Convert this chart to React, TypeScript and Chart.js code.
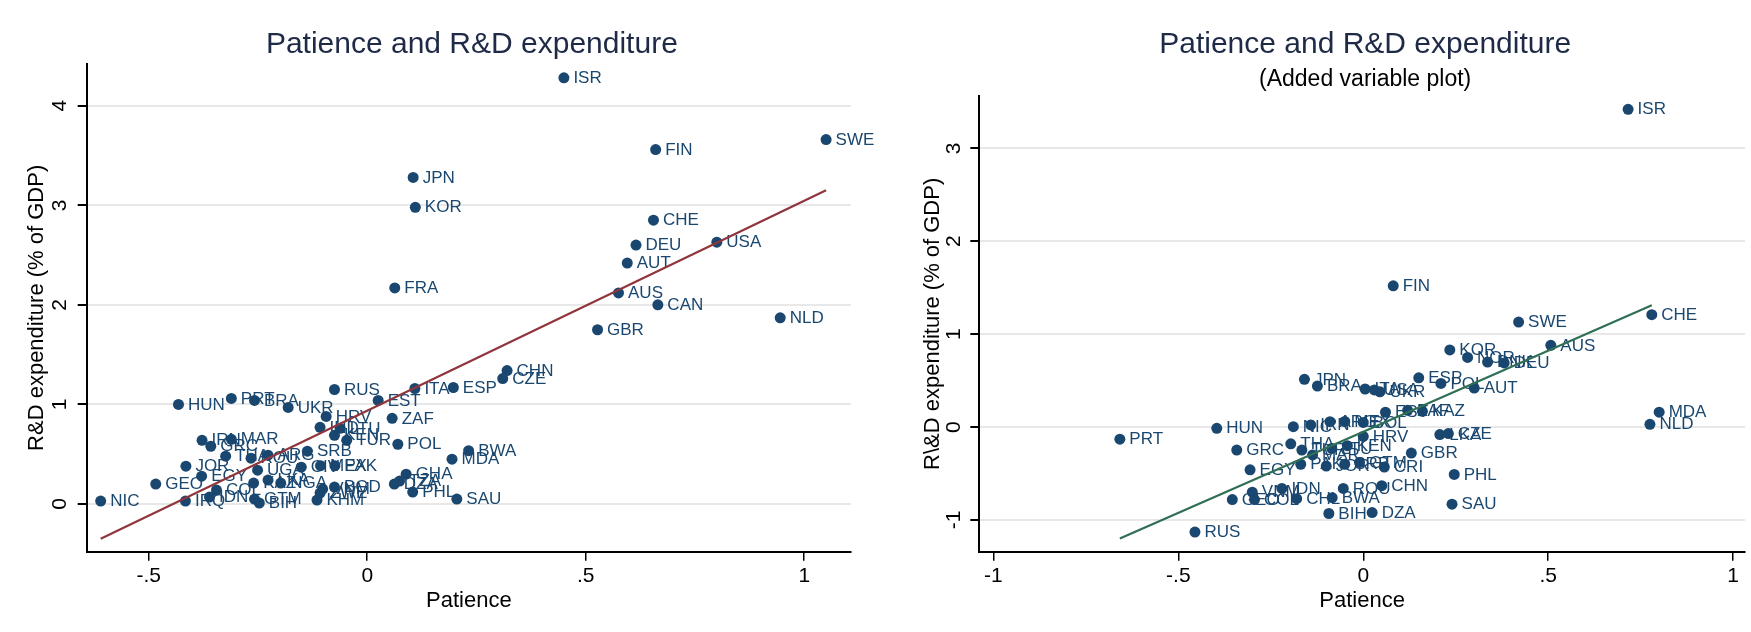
import React, { useEffect, useRef } from "react";
import { Chart, registerables } from "chart.js";
Chart.register(...registerables);

const FONT = "'Liberation Sans', Arial, Helvetica, sans-serif";
const NAVY = "#1a476f";
const TITLE_COLOR = "#1e2a46";

// ---------- Left panel: Patience and R&D expenditure ----------
const leftCountries = [
  "ISR", "SWE", "FIN", "JPN", "KOR", "CHE", "DEU", "USA", "AUT", "FRA", "AUS", "CAN", "NLD", "GBR",
  "CHN", "CZE", "ESP", "ITA", "EST", "RUS", "ZAF", "POL", "BWA", "MDA", "SAU", "PHL", "GHA", "DZA", "TZA",
  "HUN", "PRT", "BRA", "UKR", "HRV", "IND", "LTU", "KEN", "TUR", "SRB", "GRC", "IRN", "MAR", "THA", "ROU",
  "ARG", "JOR", "EGY", "GEO", "NIC", "IRQ", "COL", "IDN", "UGA", "KAZ", "LKA", "NGA", "GTM", "BIH", "CIV",
  "MEX", "PAK", "KHM", "VNM", "BGD", "ZWE",
];
const leftPatience = [
  0.45, 1.05, 0.66, 0.105, 0.11, 0.655, 0.615, 0.8, 0.595, 0.063, 0.575, 0.665, 0.945, 0.527,
  0.32, 0.31, 0.197, 0.109, 0.025, -0.075, 0.057, 0.07, 0.232, 0.194, 0.205, 0.104, 0.089, 0.062, 0.074,
  -0.432, -0.311, -0.258, -0.181, -0.094, -0.108, -0.062, -0.075, -0.047, -0.137, -0.358, -0.378, -0.311, -0.324, -0.266,
  -0.227, -0.415, -0.379, -0.484, -0.61, -0.416, -0.345, -0.361, -0.251, -0.26, -0.227, -0.198, -0.258, -0.247, -0.151,
  -0.107, -0.074, -0.115, -0.102, -0.075, -0.108,
];
const leftRD = [
  4.28, 3.66, 3.56, 3.28, 2.98, 2.85, 2.6, 2.63, 2.42, 2.17, 2.12, 2.0, 1.87, 1.75,
  1.34, 1.26, 1.17, 1.16, 1.04, 1.15, 0.86, 0.6, 0.535, 0.45, 0.05, 0.12, 0.3, 0.2, 0.23,
  1.0, 1.06, 1.04, 0.97, 0.88, 0.77, 0.76, 0.69, 0.64, 0.53, 0.58, 0.64, 0.65, 0.48, 0.46,
  0.49, 0.38, 0.28, 0.2, 0.03, 0.03, 0.14, 0.07, 0.34, 0.21, 0.24, 0.21, 0.05, 0.01, 0.37,
  0.385, 0.385, 0.04, 0.15, 0.17, 0.11,
];
const leftFitX = [-0.61, 1.05];
const leftFitY = [-0.35, 3.15];
const leftXTicks = [-0.5, 0, 0.5, 1];
const leftYTicks = [0, 1, 2, 3, 4];

// ---------- Right panel: added variable plot ----------
const rightCountries = [
  "ISR", "FIN", "CHE", "SWE", "AUS", "KOR", "NOR", "DNK", "DEU", "JPN", "BRA", "ITA", "USA", "UKR",
  "ESP", "POL", "AUT", "MDA", "NLD", "EST", "ZAF", "KAZ", "BOL", "MEX", "NIC", "IRN", "ARG", "HUN",
  "PRT", "GRC", "THA", "TUR", "MAR", "LTU", "KEN", "HRV", "LKA", "CZE", "GBR", "EGY", "PAK", "JOR",
  "SRB", "GTM", "CRI", "PHL", "CHN", "ROU", "IDN", "VNM", "GEO", "COL", "CHL", "BWA", "BIH", "DZA",
  "SAU", "RUS",
];
const rightPatience = [
  0.716, 0.081, 0.78, 0.42, 0.507, 0.234, 0.282, 0.336, 0.381, -0.159, -0.124, 0.005, 0.03, 0.045,
  0.15, 0.21, 0.3, 0.8, 0.775, 0.06, 0.12, 0.16, 0.0, -0.05, -0.189, -0.142, -0.09, -0.396,
  -0.658, -0.342, -0.196, -0.166, -0.137, -0.085, -0.043, 0.0, 0.207, 0.23, 0.13, -0.306, -0.169, -0.1,
  -0.05, -0.01, 0.057, 0.246, 0.05, -0.054, -0.22, -0.3, -0.354, -0.294, -0.18, -0.084, -0.093, 0.024,
  0.24, -0.455,
];
const rightRD = [
  3.42, 1.52, 1.21, 1.13, 0.88, 0.83, 0.75, 0.7, 0.69, 0.514, 0.442, 0.41, 0.4, 0.38,
  0.53, 0.47, 0.42, 0.16, 0.03, 0.16, 0.18, 0.17, 0.05, 0.06, 0.004, 0.023, 0.058, -0.013,
  -0.13, -0.247, -0.18, -0.247, -0.3, -0.23, -0.2, -0.1, -0.08, -0.07, -0.28, -0.46, -0.4, -0.42,
  -0.4, -0.38, -0.43, -0.51, -0.63, -0.66, -0.66, -0.7, -0.78, -0.78, -0.77, -0.76, -0.93, -0.92,
  -0.83, -1.13,
];
const rightFitX = [-0.658, 0.78];
const rightFitY = [-1.2, 1.31];
const rightXTicks = [-1, -0.5, 0, 0.5, 1];
const rightYTicks = [-1, 0, 1, 2, 3];

type PanelSpec = {
  codes: string[];
  xs: number[];
  ys: number[];
  fitX: number[];
  fitY: number[];
  xTicks: number[];
  yTicks: number[];
  xMin: number;
  xMax: number;
  yMin: number;
  yMax: number;
  lineColor: string;
  title: string;
  subtitle?: string;
  yTitle: string;
  xTitle: string;
  leftW: number;
  padTop: number;
  padRight: number;
  bottomH: number;
  yTickOffset: number;
  yTitleOffset: number;
};

const fmt = (v: number) => {
  if (v === 0) return "0";
  return String(v).replace(/^(-?)0\./, "$1.");
};

function buildConfig(p: PanelSpec): any {
  const points = p.xs.map((x, i) => ({ x, y: p.ys[i] }));
  const fit = p.fitX.map((x, i) => ({ x, y: p.fitY[i] }));
  const overlay = {
    id: "overlay",
    afterDatasetDraw(chart: any, args: any) {
      if (args.index !== 1) return;
      const ctx = chart.ctx;
      const meta = chart.getDatasetMeta(1);
      ctx.save();
      ctx.font = `17px ${FONT}`;
      ctx.fillStyle = NAVY;
      ctx.textAlign = "left";
      ctx.textBaseline = "middle";
      meta.data.forEach((el: any, i: number) => {
        ctx.fillText(p.codes[i], el.x + 9.5, el.y + 0.5);
      });
      ctx.restore();
    },
    afterDraw(chart: any) {
      const ctx = chart.ctx;
      const area = chart.chartArea;
      const xs = chart.scales.x;
      const ys = chart.scales.y;
      ctx.save();
      ctx.fillStyle = "#000";
      ctx.font = `21px ${FONT}`;
      ctx.textAlign = "center";
      ctx.textBaseline = "middle";
      p.xTicks.forEach((v) => {
        ctx.fillText(fmt(v), xs.getPixelForValue(v), area.bottom + 25);
      });
      p.yTicks.forEach((v) => {
        ctx.save();
        ctx.translate(area.left - p.yTickOffset, ys.getPixelForValue(v));
        ctx.rotate(-Math.PI / 2);
        ctx.fillText(fmt(v), 0, 0);
        ctx.restore();
      });
      ctx.font = `22px ${FONT}`;
      ctx.fillText(p.xTitle, (area.left + area.right) / 2, area.bottom + 49);
      ctx.save();
      ctx.translate(area.left - p.yTitleOffset, (area.top + area.bottom) / 2);
      ctx.rotate(-Math.PI / 2);
      ctx.fillText(p.yTitle, 0, 0);
      ctx.restore();
      ctx.textBaseline = "alphabetic";
      ctx.fillStyle = TITLE_COLOR;
      ctx.font = `30px ${FONT}`;
      ctx.fillText(p.title, (area.left + area.right) / 2 + 3, 53);
      if (p.subtitle) {
        ctx.fillStyle = "#000";
        ctx.font = `23px ${FONT}`;
        ctx.fillText(p.subtitle, (area.left + area.right) / 2 + 3, 86);
      }
      ctx.restore();
    },
  };
  return {
    type: "scatter",
    data: {
      datasets: [
        {
          label: "fit",
          type: "line",
          data: fit,
          borderColor: p.lineColor,
          borderWidth: 2.2,
          pointRadius: 0,
          fill: false,
          tension: 0,
          order: 0,
        },
        {
          label: "points",
          data: points,
          backgroundColor: NAVY,
          borderColor: NAVY,
          borderWidth: 0,
          pointRadius: 5.5,
          pointHoverRadius: 5.5,
          order: 1,
        },
      ],
    },
    options: {
      animation: false,
      responsive: false,
      events: [],
      layout: { padding: { top: p.padTop, right: p.padRight, left: 0, bottom: 0 } },
      plugins: { legend: { display: false }, tooltip: { enabled: false }, title: { display: false } },
      scales: {
        x: {
          type: "linear",
          min: p.xMin,
          max: p.xMax,
          afterBuildTicks: (s: any) => {
            s.ticks = p.xTicks.map((v) => ({ value: v }));
          },
          afterFit: (s: any) => {
            s.height = p.bottomH;
          },
          grid: { drawOnChartArea: false, drawTicks: true, tickLength: 9, color: "#000", lineWidth: 1.5 },
          border: { display: true, color: "#000", width: 2 },
          ticks: { display: false },
        },
        y: {
          type: "linear",
          min: p.yMin,
          max: p.yMax,
          afterBuildTicks: (s: any) => {
            s.ticks = p.yTicks.map((v) => ({ value: v }));
          },
          afterFit: (s: any) => {
            s.width = p.leftW;
          },
          grid: { drawOnChartArea: true, drawTicks: true, tickLength: 9, color: "#e8e8e8", tickColor: "#000", lineWidth: 2 },
          border: { display: true, color: "#000", width: 2 },
          ticks: { display: false },
        },
      },
    },
    plugins: [overlay],
  };
}

const leftSpec: PanelSpec = {
  codes: leftCountries,
  xs: leftPatience,
  ys: leftRD,
  fitX: leftFitX,
  fitY: leftFitY,
  xTicks: leftXTicks,
  yTicks: leftYTicks,
  xMin: -0.642,
  xMax: 1.107,
  yMin: -0.479,
  yMax: 4.419,
  lineColor: "#90353b",
  title: "Patience and R&D expenditure",
  yTitle: "R&D expenditure (% of GDP)",
  xTitle: "Patience",
  leftW: 86.7,
  padTop: 64,
  padRight: 24,
  bottomH: 80.3,
  yTickOffset: 26,
  yTitleOffset: 50,
};

const rightSpec: PanelSpec = {
  codes: rightCountries,
  xs: rightPatience,
  ys: rightRD,
  fitX: rightFitX,
  fitY: rightFitY,
  xTicks: rightXTicks,
  yTicks: rightYTicks,
  xMin: -1.038,
  xMax: 1.032,
  yMin: -1.341,
  yMax: 3.563,
  lineColor: "#2f6f55",
  title: "Patience and R&D expenditure",
  subtitle: "(Added variable plot)",
  yTitle: "R\\&D expenditure (% of GDP)",
  xTitle: "Patience",
  leftW: 104.3,
  padTop: 96,
  padRight: 6,
  bottomH: 80.3,
  yTickOffset: 25,
  yTitleOffset: 46,
};

function Panel({ spec, left, width }: { spec: PanelSpec; left: number; width: number }) {
  const ref = useRef<HTMLCanvasElement>(null);
  useEffect(() => {
    const chart = new Chart(ref.current as HTMLCanvasElement, buildConfig(spec));
    return () => chart.destroy();
  }, [spec]);
  return (
    <canvas
      ref={ref}
      width={width}
      height={632}
      style={{ position: "absolute", left, top: 0, width, height: 632 }}
    />
  );
}

export default function App() {
  useEffect(() => {
    document.body.style.margin = "0";
    document.body.style.background = "#ffffff";
  }, []);
  return (
    <div style={{ position: "relative", width: 1751, height: 632, background: "#ffffff", overflow: "hidden" }}>
      <Panel spec={leftSpec} left={0} width={875} />
      <Panel spec={rightSpec} left={875} width={876} />
    </div>
  );
}
